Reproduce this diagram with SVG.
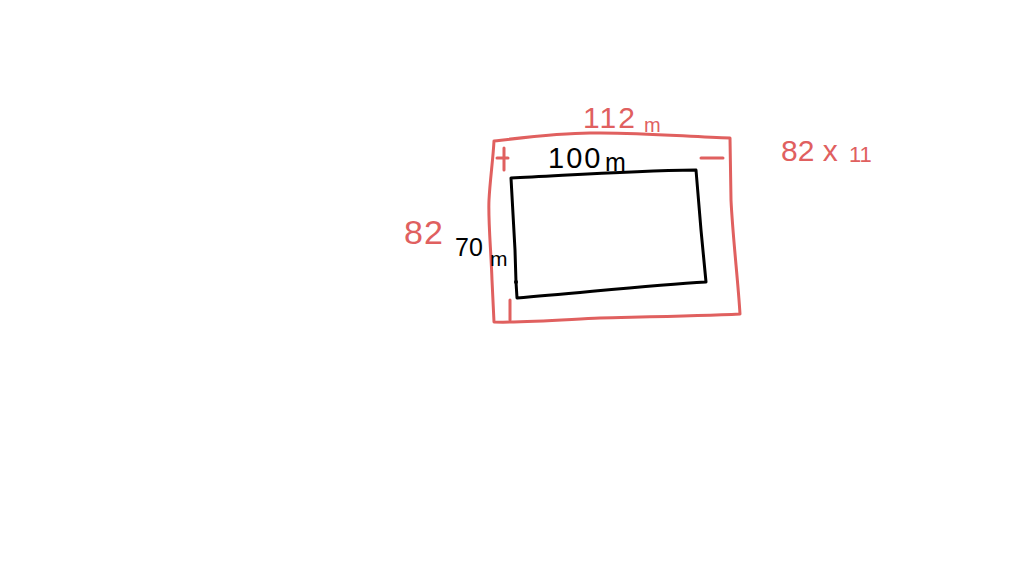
<svg xmlns="http://www.w3.org/2000/svg" width="1024" height="576" viewBox="0 0 1024 576">
<style>
.r{fill:none;stroke:#e0605f;stroke-width:3;stroke-linecap:round;stroke-linejoin:round}
.k{fill:none;stroke:#000;stroke-width:3;stroke-linecap:round;stroke-linejoin:round}
.rt{fill:#e0605f;font-family:"Liberation Sans",Arial,sans-serif}
.kt{fill:#000;font-family:"Liberation Sans",Arial,sans-serif}
</style>
<rect width="1024" height="576" fill="#fff"/>
<g id="outer">
<path class="r" d="M494,141 C520,138 560,133 590,133 C640,132 690,137 730,138 L731,200 C733,240 738,280 740,314 C700,316 640,317 600,318 C560,320 520,323 494,322 L492,280 C491,250 488,220 489,200 C490,180 493,160 494,141"/>
<path class="r" d="M504,148 L504,170 M497,158 L508,158"/>
<path class="r" d="M701,158 L723,158"/>
<path class="r" d="M510,300 L510,320"/>
</g>
<g id="inner">
<path class="k" d="M511,178 C560,176 620,171 696,170 L701,230 L706,282 C650,285 580,293 517,298 L516,282 L515,250 L511,178"/>
<circle cx="516" cy="282" r="2" fill="#000"/>
</g>
<g id="labels">
<text class="rt" x="583" y="128" font-size="30" letter-spacing="2">112</text>
<text class="rt" x="644" y="132" font-size="20">m</text>
<text class="rt" x="404" y="244" font-size="34" letter-spacing="1">82</text>
<text class="kt" x="455" y="256" font-size="25">70</text>
<text class="kt" x="490" y="266" font-size="21">m</text>
<text class="kt" x="548" y="168" font-size="29" letter-spacing="2">100</text>
<text class="kt" x="605" y="171" font-size="25">m</text>
<text class="rt" x="781" y="161" font-size="30">82 x</text>
<text class="rt" x="849" y="162" font-size="22">11</text>
</g>
</svg>
